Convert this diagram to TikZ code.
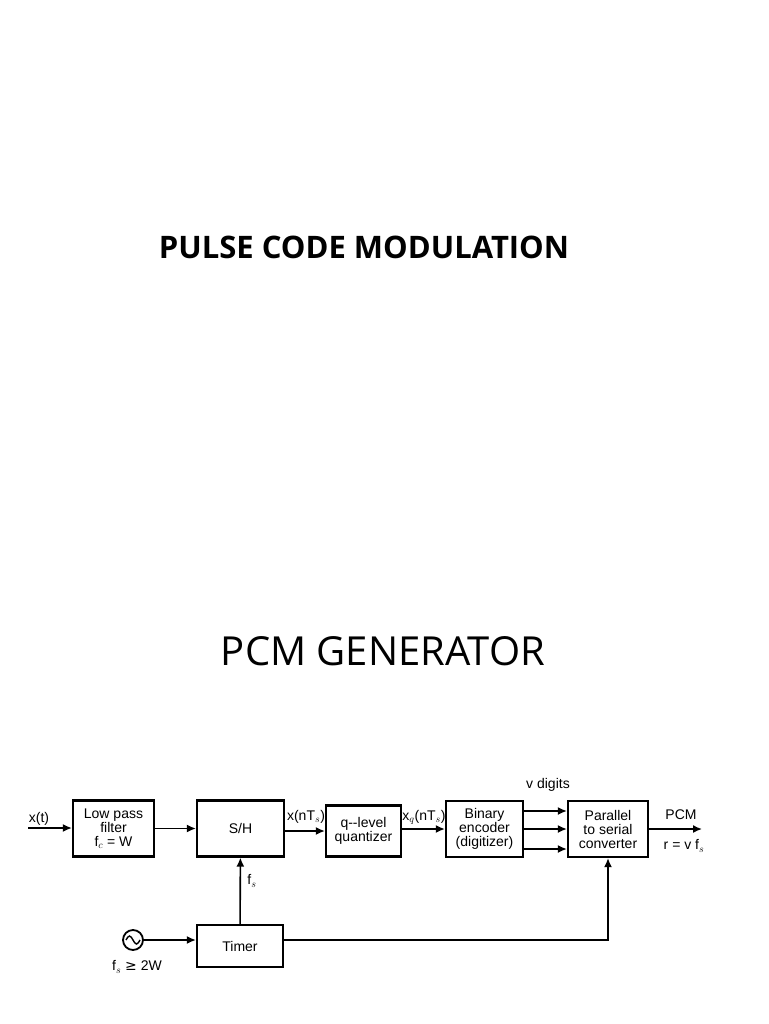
\documentclass[tikz,border=0pt]{standalone}
\usepackage{fontspec}
\setmainfont{Open Sans}
\newfontfamily\dia{Liberation Sans}
\usetikzlibrary{arrows.meta}
\begin{document}
\begin{tikzpicture}[x=1pt,y=-1pt,
  blk/.style={draw,line width=2.2pt,align=center,font=\dia\fontsize{14}{14}\selectfont,inner sep=0pt},
  lab/.style={font=\dia\fontsize{14}{14}\selectfont,inner sep=0pt},
  arr/.style={line width=1.6pt,-{Latex[length=9pt,width=8pt]}}]
\useasboundingbox (0,0) rectangle (768,1024);
\node[font=\bfseries\fontsize{31}{36}\selectfont] (t1) at (364,247) {PULSE CODE MODULATION};
\node[font=\fontsize{40}{44}\selectfont] (t2) at (383,651) {PCM GENERATOR};
\node[blk,minimum width=81,minimum height=56] (lpf) at (113.5,828.5) {Low pass\\filter\\f$_c$ = W};
\node[blk,minimum width=87,minimum height=56] (sh) at (240.5,828.5) {S/H};
\node[blk,minimum width=75,minimum height=51] (q) at (363.5,831) {q--level\\quantizer};
\node[blk,minimum width=77,minimum height=56] (enc) at (484.5,829) {Binary\\encoder\\(digitizer)};
\node[blk,minimum width=80,minimum height=56] (ps) at (608,829) {Parallel\\to serial\\converter};
\node[blk,minimum width=86,minimum height=42] (tim) at (240,946) {Timer};
\node[draw,circle,line width=1.8pt,minimum size=20,inner sep=0pt] (osc) at (133,940) {};
\draw[line width=1.4pt] (126,940) sin (129.5,936) cos (133,940) sin (136.5,944) cos (140,940);
\node[lab] (xt) at (39,819) {x(t)};
\coordinate (in) at (28,828);
\node[lab] (xn) at (306,817) {x(nT$_s$)};
\node[lab] (xq) at (424,817) {x$_q$(nT$_s$)};
\node[lab] (vd) at (548,785) {v digits};
\node[lab] (pcm) at (681,815) {PCM};
\node[lab] (rr) at (684,846) {r = v f$_s$};
\node[lab] (fs) at (252,881) {f$_s$};
\node[lab] (fs2) at (137,967) {f$_s$ {\fontspec{DejaVu Sans}≥} 2W};
\coordinate (out) at (702,829);
\draw[arr] (in) -- (lpf.west|-in);
\draw[arr] (lpf) -- (sh);
\draw[arr] (sh.east|-q) -- (q);
\draw[arr] (q.east|-enc) -- (enc);
\foreach \y in {811,829,849} \draw[arr] (enc.east|-0,\y) -- (ps.west|-0,\y);
\draw[arr] (ps) -- (out);
\draw[arr] (tim) -- (sh);
\draw[arr] (osc) -- (tim.west|-osc);
\draw[arr] (tim.east|-osc) -| (ps.south);
\end{tikzpicture}
\end{document}
